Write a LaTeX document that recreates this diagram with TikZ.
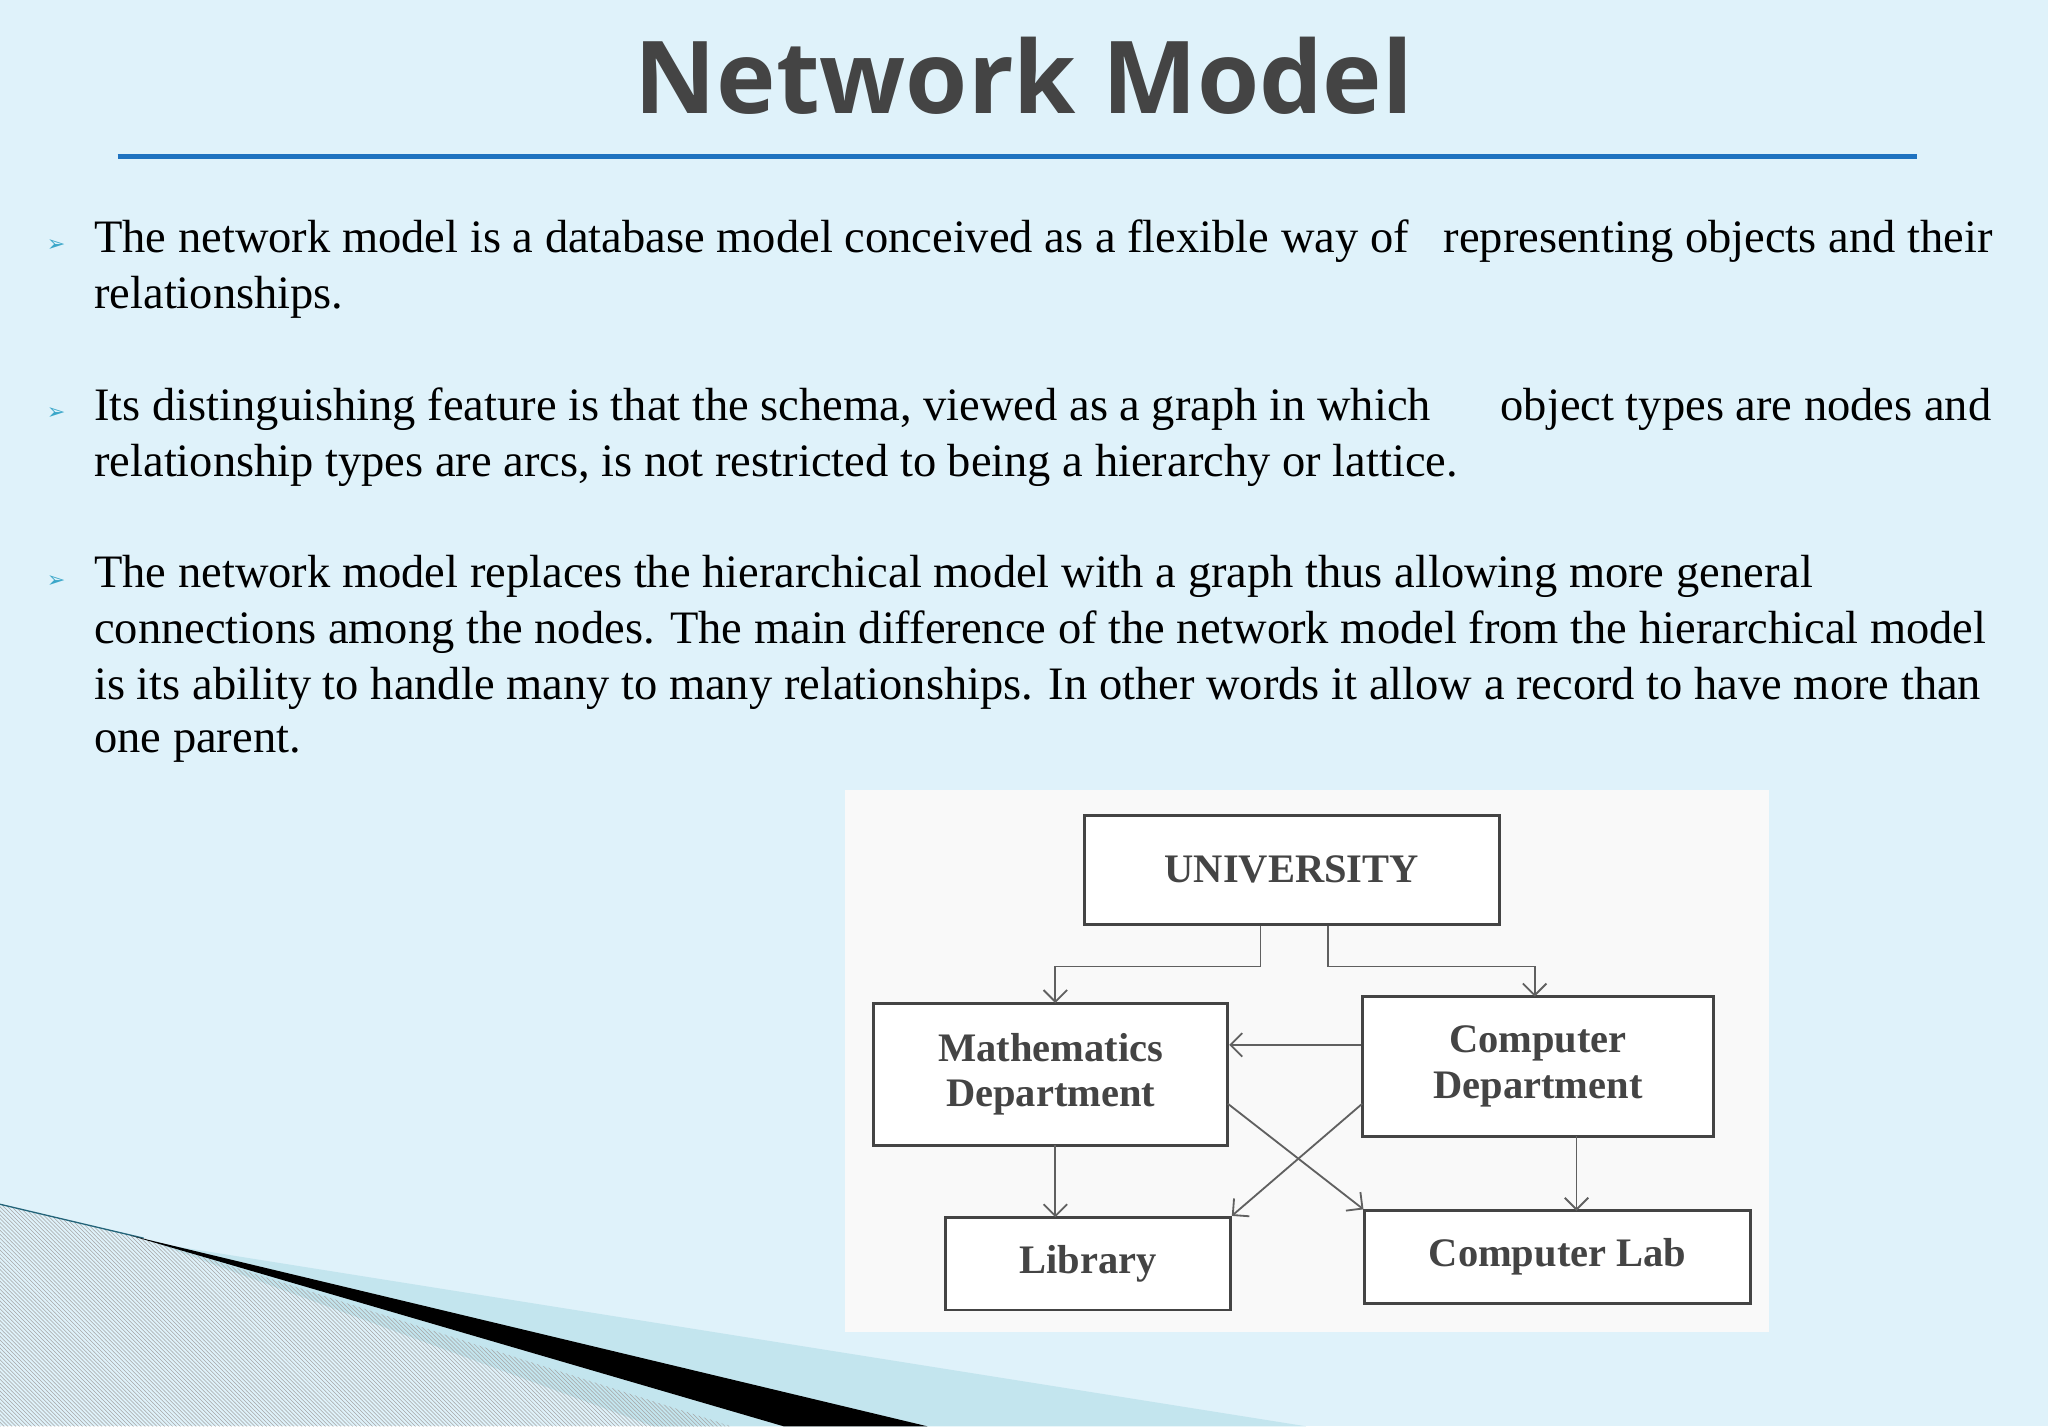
\documentclass[tikz,border=0pt]{standalone}
\usepackage{fontspec}
\setmainfont{Liberation Serif}
\newfontfamily\titlefont{Open Sans}
\newfontfamily\symfont{DejaVu Sans}
\usetikzlibrary{patterns,arrows.meta}
\definecolor{bgc}{HTML}{DFF2FA}
\definecolor{rulec}{HTML}{1F73C0}
\definecolor{teal1}{HTML}{3BA7C9}
\definecolor{band}{HTML}{C3E5EE}
\definecolor{boxc}{HTML}{444444}
\tikzset{
 line/.style={anchor=west,font=\fontsize{35.6}{38}\selectfont,inner sep=0},
 bul/.style={anchor=center,text=teal1,font=\symfont\fontsize{17}{18}\selectfont,inner sep=0},
 dbox/.style={draw=boxc,line width=2.2pt,fill=white,text=boxc,font=\bfseries\fontsize{31}{31}\selectfont,align=center,inner sep=0},
 conn/.style={draw=boxc!85,line width=1.4pt},
 arr/.style={conn,-{Straight Barb[length=9pt,width=18pt]}}
}
\begin{document}
\begin{tikzpicture}[x=1pt,y=-1pt]
\useasboundingbox (0,0) rectangle (1568,1092);
\fill[bgc] (0,0) rectangle (1568,1092);
% decoration
\fill[band] (120,952) -- (1000,1092) -- (500,1092) -- cycle;
\fill[pattern=north west lines,pattern color=gray!70] (0,922) -- (110,948) -- (560,1092) -- (0,1092) -- cycle;
\draw[teal1!60!black,line width=1pt] (0,922) -- (110,948);
\fill[black] (100,946) -- (710,1092) -- (600,1092) -- cycle;
% title
\node[font=\titlefont\bfseries\fontsize{77}{80}\selectfont,text=boxc] (title) at (784,58) {Network Model};
\draw[rulec,line width=4pt] (90,120) -- (1468,120);
% bullets
\node[bul] (b1) at (43,188) {➢};
\node[line] (l1) at (72,185) {The network model is a database model conceived as a flexible way of \ \ representing objects and their};
\node[line] (l2) at (72,228) {relationships.};
\node[bul] (b2) at (43,317) {➢};
\node[line] (l3) at (72,313) {Its distinguishing feature is that the schema, viewed as a graph in which \quad\ object types are nodes and};
\node[line] (l4) at (72,356) {relationship types are arcs, is not restricted to being a hierarchy or lattice.};
\node[bul] (b3) at (43,445) {➢};
\node[line] (l5) at (72,441) {The network model replaces the hierarchical model with a graph thus allowing more general};
\node[line] (l6) at (72,484) {connections among the nodes. The main difference of the network model from the hierarchical model};
\node[line] (l7) at (72,527) {is its ability to handle many to many relationships. In other words it allow a record to have more than};
\node[line] (l8) at (72,570) {one parent.};
% diagram
\fill[white!95!gray] (647,605) rectangle (1354,1020);
\node[dbox,minimum width=318,minimum height=83] (uni) at (989,666) {UNIVERSITY};
\node[dbox,minimum width=271,minimum height=109] (math) at (804.5,822.5) {Mathematics\\[4pt]Department};
\node[dbox,minimum width=269,minimum height=107] (comp) at (1177.5,816.5) {Computer\\[4pt]Department};
\node[dbox,minimum width=218,minimum height=71] (lib) at (833,967.5) {Library};
\node[dbox,minimum width=295,minimum height=71] (lab) at (1192.5,962.5) {Computer Lab};
\draw[arr] ([xshift=-24pt]uni.south) |- (808,740) -- (808,768);
\draw[arr] ([xshift=28pt]uni.south) |- (1175,740) -- (1175,763);
\draw[arr] (comp.west |- 0,800) -- (math.east |- 0,800);
\draw[arr] (808,877) -- (808,932);
\draw[arr] (1207,870) -- (1207,927);
\draw[arr] (940,845) -- (lab.north west);
\draw[arr] (1043,845) -- (lib.north east);
\end{tikzpicture}
\end{document}
